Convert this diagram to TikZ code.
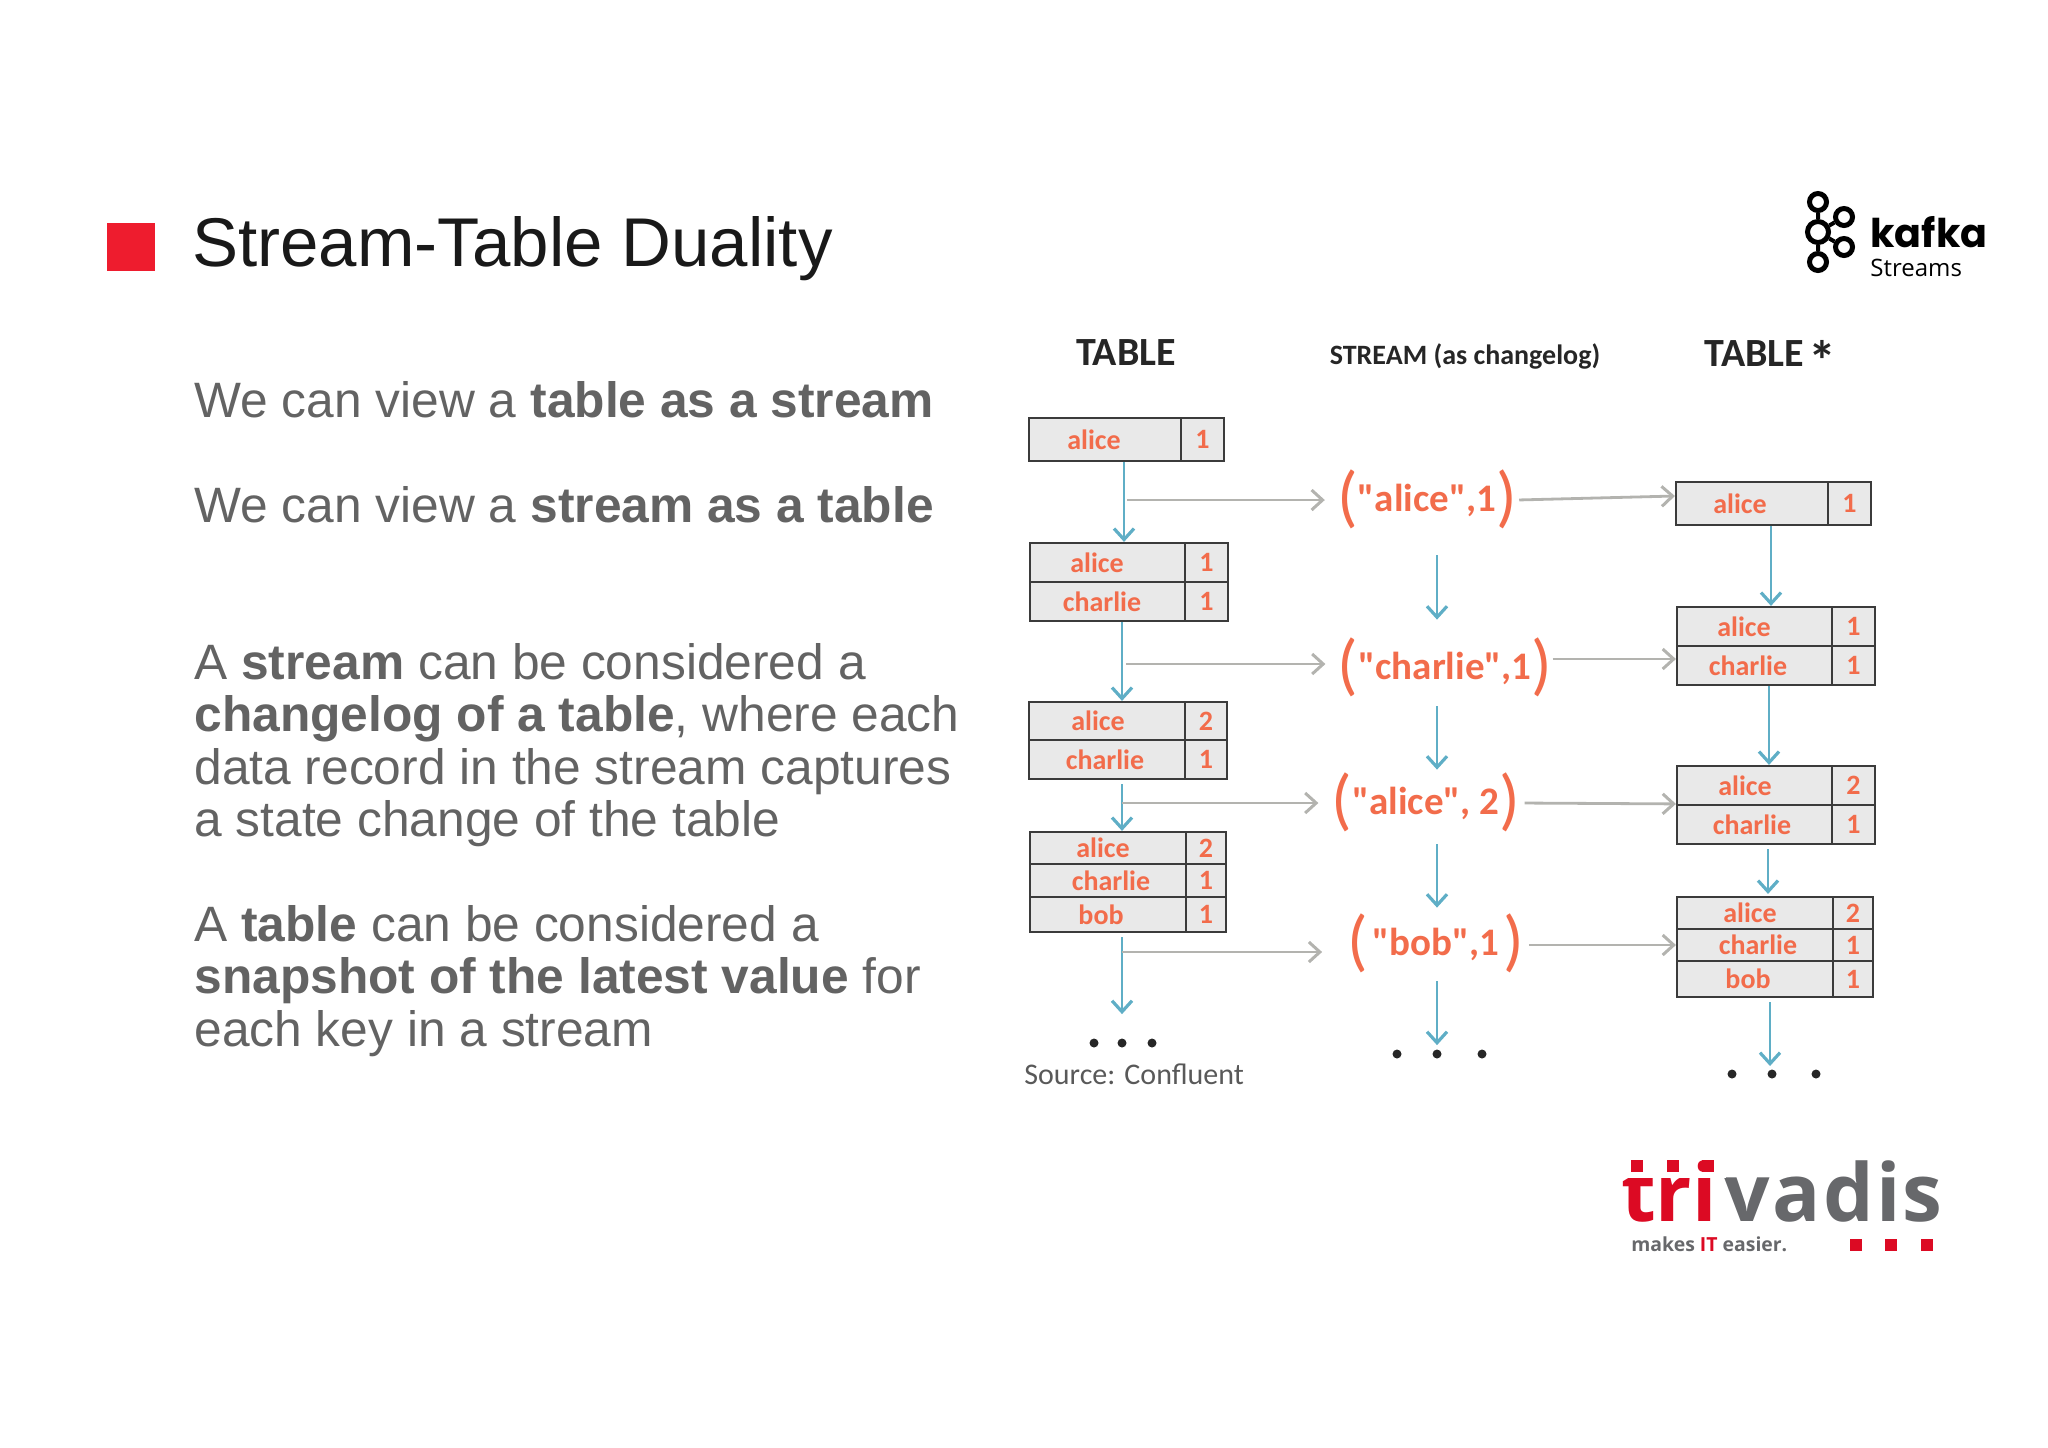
\documentclass[tikz,border=0pt]{standalone}
\usepackage{fontspec}
\setmainfont{Liberation Sans}
\newfontfamily\handfont{Carlito}
\newfontfamily\logofont{Poppins}
\newfontfamily\opensans{Open Sans}
\newfontfamily\trifont[LetterSpace=3]{Open Sans}
\usetikzlibrary{arrows.meta}
\definecolor{slidered}{HTML}{EE1C2E}
\definecolor{bodygray}{HTML}{636363}
\definecolor{cellgray}{HTML}{E9E9E9}
\definecolor{framegray}{HTML}{3B3B3B}
\definecolor{handorange}{HTML}{F26C4B}
\definecolor{flowblue}{HTML}{5FAEC6}
\definecolor{sidegray}{HTML}{B3B3AF}
\definecolor{trired}{HTML}{DC0A23}
\definecolor{trigray}{HTML}{67686B}
\tikzset{
  bodytext/.style={anchor=north west, inner sep=0pt, align=left, text=bodygray, font=\fontsize{24.85}{26.25}\selectfont},
  cellbox/.style={draw=framegray, fill=cellgray, line width=1.1pt, inner sep=0pt, text=handorange, font=\handfont\bfseries\fontsize{14}{14}\selectfont},
  handtext/.style={inner sep=0pt, text=handorange, font=\handfont\bfseries\fontsize{14}{14}\selectfont},
  headtext/.style={inner sep=0pt, text=black!85, font=\handfont\bfseries\fontsize{20}{20}\selectfont},
  streamrec/.style={inner sep=0pt, text=handorange, minimum width=#1*0.5pt, text height=19.5pt, text depth=8.5pt, font=\handfont\bfseries\fontsize{19.5}{19.5}\selectfont},
  flowarrow/.style={-{Straight Barb[length=5.5pt, width=10pt, line width=1.6pt]}, flowblue, line width=1.3pt},
  sidearrow/.style={-{Straight Barb[length=5.5pt, width=10pt, line width=1.5pt]}, sidegray, line width=1.4pt},
  dotmark/.style={circle, fill=black!85, inner sep=0pt, minimum size=4.5pt},
  kafkaring/.style={circle, draw=black, line width=2.5pt, inner sep=0pt, minimum size=#1*1pt, fill=white},
  trisquare/.style={fill=trired, inner sep=0pt, minimum size=5.6pt}
}
\newcommand{\kvrow}[9]{%
  \node[cellbox, minimum width={(#3-#2)*0.5pt}, minimum height={(#6-#5)*0.5pt}] (#1k) at ({(#2+#3)/2},{(#5+#6)/2}) {};
  \node[cellbox, minimum width={(#4-#3)*0.5pt}, minimum height={(#6-#5)*0.5pt}] (#1v) at ({(#3+#4)/2},{(#5+#6)/2}) {#9};
  \node[handtext] (#1t) at (#8,{(#5+#6)/2}) {#7};
}
\newcommand{\bigparen}[1]{\raisebox{-4pt}{\mdseries\fontsize{34}{34}\selectfont #1}}
\begin{document}
\begin{tikzpicture}[x=0.5pt, y=-0.5pt]
\useasboundingbox (0,0) rectangle (2048,1447);

% slide text
\node[fill=slidered, inner sep=0pt, minimum size=24pt] (bullet) at (131,247) {};
\node[anchor=base west, inner sep=0pt, text=black!90, font=\fontsize{34.5}{34.5}\selectfont] (title) at (192,266) {Stream-Table Duality};
\node[bodytext] (p1) at (194,381) {We can view a \textbf{table as a stream}};
\node[bodytext] (p2) at (194,486) {We can view a \textbf{stream as a table}};
\node[bodytext] (p3) at (194,643) {A \textbf{stream} can be considered a\\\textbf{changelog of a table}, where each\\data record in the stream captures\\a state change of the table};
\node[bodytext] (p4) at (194,905) {A \textbf{table} can be considered a\\\textbf{snapshot of the latest value} for\\each key in a stream};

% column heads
\node[headtext] (headl) at (1126,353) {TABLE};
\node[headtext, font=\handfont\bfseries\fontsize{14}{14}\selectfont] (headm) at (1465,356) {STREAM (as changelog)};
\node[headtext, anchor=west] (headr) at (1704,360) {TABLE\hspace{2pt}\raisebox{-7pt}{\fontsize{28}{28}\selectfont *}};

% left tables
\kvrow{ta}{1029}{1181}{1224}{418}{461}{alice}{1094}{1}
\kvrow{tb}{1030}{1185}{1228}{543}{582}{alice}{1097}{1}
\kvrow{tc}{1030}{1185}{1228}{582}{621}{charlie}{1102}{1}
\kvrow{td}{1029}{1185}{1227}{702}{740}{alice}{1098}{2}
\kvrow{te}{1029}{1185}{1227}{740}{779}{charlie}{1105}{1}
\kvrow{tf}{1030}{1186}{1226}{832}{864}{alice}{1103}{2}
\kvrow{tg}{1030}{1186}{1226}{864}{897}{charlie}{1111}{1}
\kvrow{th}{1030}{1186}{1226}{897}{932}{bob}{1101}{1}

% right tables
\kvrow{ra}{1676}{1828}{1871}{482}{525}{alice}{1740}{1}
\kvrow{rb}{1677}{1832}{1875}{607}{646}{alice}{1744}{1}
\kvrow{rc}{1677}{1832}{1875}{646}{685}{charlie}{1748}{1}
\kvrow{rd}{1677}{1832}{1875}{766}{805}{alice}{1745}{2}
\kvrow{re}{1677}{1832}{1875}{805}{844}{charlie}{1752}{1}
\kvrow{rf}{1677}{1833}{1873}{897}{929}{alice}{1750}{2}
\kvrow{rg}{1677}{1833}{1873}{929}{961}{charlie}{1758}{1}
\kvrow{rh}{1677}{1833}{1873}{961}{997}{bob}{1748}{1}

% stream records
\node[streamrec=175] (sa) at (1427,500) {\bigparen{(}"alice",1\bigparen{)}};
\node[streamrec=201] (sb) at (1445,668) {\bigparen{(}"charlie",1\bigparen{)}};
\node[streamrec=184] (sc) at (1426,803) {\bigparen{(}"alice", 2\bigparen{)}};
\node[streamrec=179] (sd) at (1436,944) {\bigparen{(}\hspace{2pt}"bob",1\hspace{2pt}\bigparen{)}};

\foreach \n/\x/\y in {la/1094/1043, lb/1122/1043, lc/1152/1043, ma/1397/1054, mb/1437/1054, mc/1482/1054, na/1732/1074, nb/1772/1074, nc/1816/1074}
  \node[dotmark] (\n) at (\x,\y) {};

\coordinate (ga) at (1124,500);
\coordinate (gb) at (1122,664);
\coordinate (gc) at (1122,803);
\coordinate (gd) at (1122,952);

% blue flow
\draw[flowarrow] (ga |- tak.south) -- (ga |- tbk.north);
\draw[flowarrow] (gb |- tck.south) -- (gb |- tdk.north);
\draw[flowarrow, shorten <=2pt] (gc |- tek.south) -- (gc |- tfk.north);
\draw[flowarrow, shorten <=2pt, shorten >=12pt] (gd |- thk.south) -- (gd |- lb.north);
\draw[flowarrow, shorten <=13.5pt, shorten >=10pt] (sa.south -| mb) -- (sb.north -| mb);
\draw[flowarrow, shorten <=5pt, shorten >=2.5pt] (sb.south -| mb) -- (sc.north -| mb);
\draw[flowarrow, shorten <=6.5pt, shorten >=4pt] (sc.south -| mb) -- (sd.north -| mb);
\draw[flowarrow, shorten <=4.5pt, shorten >=2pt] (sd.south -| mb) -- (mb.north);
\draw[flowarrow] (rak.south -| 1771,0) -- (rbk.north -| 1771,0);
\draw[flowarrow] (rck.south -| 1769,0) -- (rdk.north -| 1769,0);
\draw[flowarrow, shorten <=2pt, shorten >=1pt] (rek.south -| 1768,0) -- (rfk.north -| 1768,0);
\draw[flowarrow, shorten <=2pt, shorten >=4pt] (rhk.south -| 1770,0) -- (1770,1074);

% grey side arrows
\draw[sidearrow, shorten <=1.5pt, shorten >=6pt] (ga) -- (ga -| sa.west);
\draw[sidearrow, shorten <=2pt, shorten >=6pt] (gb) -- (gb -| sb.west);
\draw[sidearrow, shorten >=6.5pt] (gc) -- (gc -| sc.west);
\draw[sidearrow, shorten >=12pt] (gd) -- (gd -| sd.west);
\draw[sidearrow, shorten <=1pt] (sa.east) -- ([yshift=3.75pt]rak.west);
\draw[sidearrow] ([yshift=4.5pt]sb.east) -- ([yshift=3.25pt]rck.west);
\draw[sidearrow, shorten <=2pt] (sc.east) -- (rek.north west);
\draw[sidearrow, shorten <=1.5pt] (sd.east |- rgk) -- (rgk.west);

\node[anchor=base west, inner sep=0pt, text=black!65, font=\handfont\fontsize{15}{15}\selectfont] (source) at (1024,1084) {Source: Confluent};

% kafka logo
\node[kafkaring=10.5] (kcore) at (1818,232) {};
\node[kafkaring=8.5] (ktop) at (1818,202) {};
\node[kafkaring=8.5] (kbot) at (1818,262) {};
\node[kafkaring=8.5] (kup) at (1844,217) {};
\node[kafkaring=8.5] (klow) at (1844,247) {};
\draw[black, line width=2pt] (kcore) -- (ktop) (kcore) -- (kbot) (kcore) -- (kup) (kcore) -- (klow);
\node[anchor=base west, inner sep=0pt, font=\logofont\bfseries\fontsize{19.8}{19.8}\selectfont] (kafka) at (1870,247) {kafka};
\node[anchor=base west, inner sep=0pt, font=\opensans\fontsize{12}{12}\selectfont] (streams) at (1870,276) {Streams};

% trivadis logo
\node[anchor=base east, inner sep=0pt, text=trired, font=\opensans\bfseries\fontsize{40}{40}\selectfont] (tri) at (1717,1221) {tri};
\node[anchor=base west, inner sep=0pt, text=trigray, font=\trifont\bfseries\fontsize{40}{40}\selectfont] (vadis) at (1724,1221) {vadis};
\foreach \n/\x in {tsa/1637, tsb/1673, tsc/1708}
  \node[trisquare, fill=white, minimum width=18pt, minimum height=3pt] at (\x,1175) {};
\foreach \n/\x in {tsa/1637, tsb/1673, tsc/1708}
  \node[trisquare] (\n) at (\x,1166) {};
\node[anchor=base west, inner sep=0pt, text=trigray, font=\opensans\bfseries\fontsize{9.7}{9.7}\selectfont] (slogan) at (1631,1251) {makes \textcolor{trired}{IT} easier.};
\foreach \n/\x in {tda/1856, tdb/1891, tdc/1927}
  \node[trisquare] (\n) at (\x,1245) {};
\end{tikzpicture}
\end{document}
